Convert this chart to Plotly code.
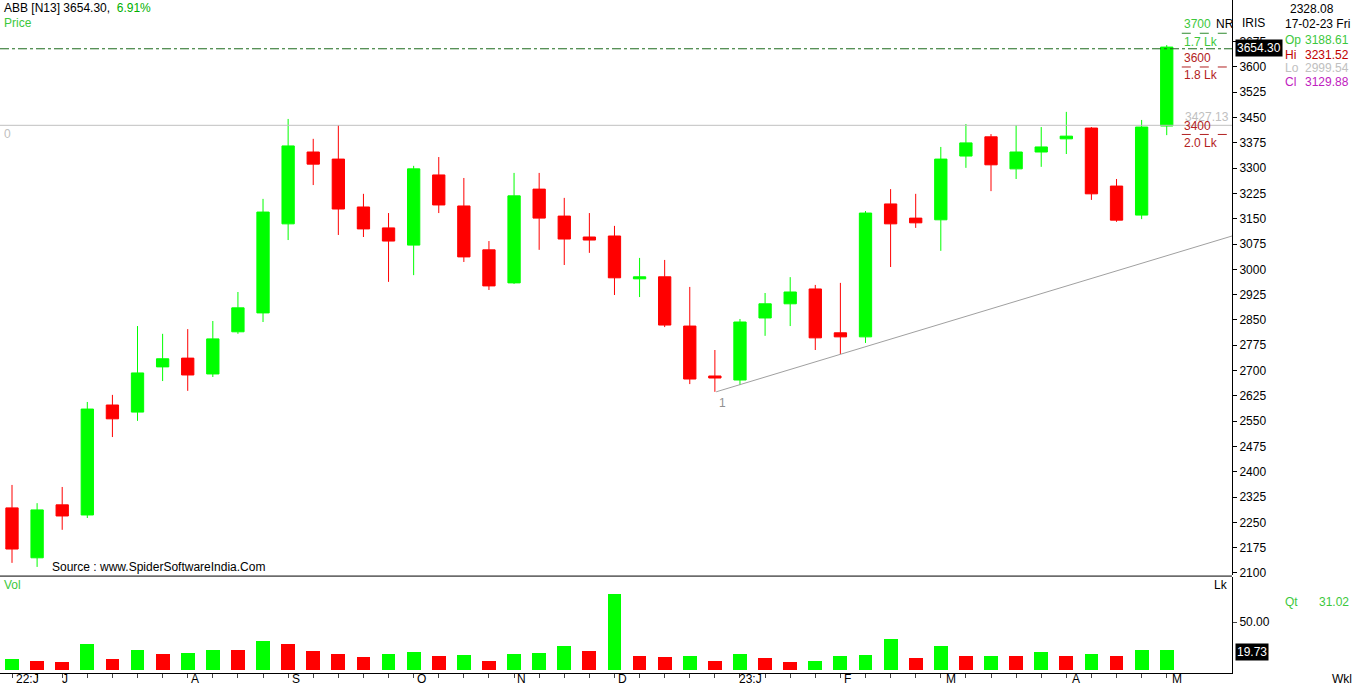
import plotly.graph_objects as go

opens  = [2293,2145,2302,2272,2598,2577,2711,2737,2690,2815,2871,3135,3348,3327,3185,3123,3072,3280,3188,3058,2960,3238,3158,3096,3099,2972,2978,2832,2684,2672,2856,2898,2942,2812,2800,3194,3152,3147,3336,3393,3298,3348,3387,3419,3247,3161,3425]
closes = [2171,2287,2269,2586,2557,2693,2735,2687,2794,2886,3170,3366,3312,3179,3120,3084,3298,3191,3037,2951,3218,3152,3090,3087,2975,2978,2835,2675,2678,2844,2898,2933,2797,2800,3167,3135,3138,3327,3375,3310,3348,3363,3395,3224,3146,3422,3659]
highs  = [2361,2307,2355,2607,2628,2832,2809,2823,2847,2933,3209,3446,3387,3428,3224,3167,3307,3333,3271,3084,3286,3286,3212,3167,3129,3034,3028,2948,2761,2853,2930,2977,2954,2960,3173,3238,3224,3363,3431,3401,3428,3422,3467,3422,3268,3443,3665]
lows   = [2130,2118,2228,2263,2503,2551,2669,2640,2681,2809,2844,3087,3250,3102,3096,2963,2983,3167,3022,2939,2957,3058,3013,3049,2924,2918,2829,2660,2637,2657,2803,2832,2761,2749,2782,3007,3123,3055,3301,3232,3268,3304,3342,3206,3141,3149,3398]
volumes = [11.5,9,8,27,12,21,16.5,17.5,21,20.5,30,27,19.5,16.5,13.5,16.5,18.5,14.5,15.5,9.5,16.5,17.5,25,19.5,79,14.5,13.5,14.5,9.5,16.5,12.5,8,9.5,14.5,15.5,32,12.5,25,14.5,14.5,14.5,19,14.5,16.5,14.5,21,21]
vol_up = [1,0,0,1,0,1,0,1,1,0,1,0,0,0,0,1,1,0,1,0,1,1,1,0,1,0,0,1,0,1,0,0,1,1,1,1,0,1,0,1,0,1,0,1,0,1,1]
month_labels = ["22:J","J","A","S","O","N","D","23:J","F","M","A","M"]
month_pos = [0.6,2.1,7.3,11.3,16.3,20.3,24.3,29.4,33.3,37.4,42.4,46.4]
price_ticks = list(range(2100, 3700, 75))

GREEN = "#00ff00"; RED = "#ff0000"
x = list(range(len(opens)))
fig = go.Figure()
fig.add_trace(go.Candlestick(x=x, open=opens, high=highs, low=lows, close=closes,
    increasing=dict(line=dict(color=GREEN, width=1), fillcolor=GREEN),
    decreasing=dict(line=dict(color=RED, width=1), fillcolor=RED),
    whiskerwidth=0, xaxis="x", yaxis="y", showlegend=False, hoverinfo="skip"))
fig.add_trace(go.Bar(x=x, y=volumes, marker=dict(color=[GREEN if u else RED for u in vol_up], line=dict(width=0)),
    width=0.55, xaxis="x2", yaxis="y2", showlegend=False, hoverinfo="skip"))
fig.add_trace(go.Scatter(x=[28.05, 48.6], y=[2637, 3099], mode="lines", line=dict(color="#a0a0a0", width=1),
    xaxis="x", yaxis="y", showlegend=False, hoverinfo="skip"))

xr = [-0.478, 48.6]
fig.update_layout(
    width=1352, height=687, margin=dict(l=0, r=120, t=0, b=14, autoexpand=False),
    paper_bgcolor="white", plot_bgcolor="white",
    font=dict(family="Liberation Sans", size=12, color="black"),
    xaxis=dict(domain=[0,1], range=xr, anchor="y", showticklabels=False, showgrid=False, zeroline=False,
               rangeslider=dict(visible=False), fixedrange=True),
    yaxis=dict(domain=[0.1456,1], range=[2094,3798.6], side="right", tickvals=price_ticks, ticks="outside",
               ticklen=4, tickcolor="black", showgrid=False, zeroline=False, showline=True, linecolor="black",
               tickfont=dict(size=12, color="black"), ticklabelstandoff=0),
    xaxis2=dict(domain=[0,1], range=xr, anchor="y2", tickvals=x, ticktext=[""]*len(x), ticks="outside",
                ticklen=4, tickcolor="#444", showgrid=False, zeroline=False, showline=True, linecolor="black"),
    yaxis2=dict(domain=[0,0.1426], range=[-3,96.9], side="right", tickvals=[50], ticktext=["50.00"], ticks="outside",
                ticklen=4, showgrid=False, zeroline=False, showline=True, linecolor="black"),
    bargap=0,
)
shapes = [
    dict(type="line", xref="paper", yref="y", x0=0, x1=1, y0=3654, y1=3654, line=dict(color="#1a6a1a", width=1, dash="dashdot")),
    dict(type="line", xref="paper", yref="y", x0=0, x1=1, y0=3427.13, y1=3427.13, line=dict(color="#c0c0c0", width=1)),
    dict(type="line", xref="x", yref="y", x0=46.6, x1=48.6, y0=3700, y1=3700, line=dict(color="#2e8b2e", width=1, dash="dash")),
    dict(type="line", xref="x", yref="y", x0=46.6, x1=48.6, y0=3600, y1=3600, line=dict(color="#b22222", width=1, dash="dash")),
    dict(type="line", xref="x", yref="y", x0=46.6, x1=48.6, y0=3400, y1=3400, line=dict(color="#b22222", width=1, dash="dash")),
    dict(type="line", xref="paper", yref="paper", x0=0, x1=1, y0=0.144, y1=0.144, line=dict(color="black", width=1)),
]
fig.update_layout(shapes=shapes)

ann = []
def T(px, py, text, color="black", size=12, xanchor="left", bg=None):
    ann.append(dict(xref="paper", yref="paper", x=px/1232, y=1-py/673, text=text, showarrow=False,
                    xanchor=xanchor, yanchor="middle", font=dict(color=color, size=size),
                    bgcolor=bg, borderpad=1))
T(2, 8, "ABB [N13] 3654.30,  <span style='color:#00b000'>6.91%</span>")
T(2, 23, "Price", "#3cc83c")
T(2, 134, "0", "#c0c0c0")
T(717, 403, "1", "#909090")
T(50, 567, "Source : www.SpiderSoftwareIndia.Com")
T(2, 585, "Vol", "#3cc83c")
T(1212, 585, "Lk")
T(1182, 24, "3700", "#3cc83c"); T(1214, 24, "NR")
T(1182, 42, "1.7 Lk", "#3cc83c")
T(1182, 58, "3600", "#b22222")
T(1182, 75, "1.8 Lk", "#b22222")
T(1183, 117, "3427.13", "#c0c0c0")
T(1182, 126, "3400", "#b22222")
T(1182, 143, "2.0 Lk", "#b22222")
T(1235, 48, "3654.30", "white", bg="black")
T(1235, 652, "19.73", "white", bg="black")
T(1240, 23, "IRIS")
T(1288, 9, "2328.08")
T(1283, 24, "17-02-23 Fri")
T(1283, 40, "Op", "#3cc83c"); T(1351, 40, "3188.61", "#3cc83c", xanchor="right")
T(1283, 55, "Hi", "#c00000"); T(1351, 55, "3231.52", "#c00000", xanchor="right")
T(1283, 68, "Lo", "#c0c0c0"); T(1351, 68, "2999.54", "#c0c0c0", xanchor="right")
T(1283, 82, "Cl", "#c020c0"); T(1351, 82, "3129.88", "#c020c0", xanchor="right")
T(1283, 602, "Qt", "#3cc83c"); T(1351, 602, "31.02", "#3cc83c", xanchor="right")
T(1330, 679, "Wkl")
for lab, p in zip(month_labels, month_pos):
    ann.append(dict(xref="x2", yref="paper", x=p, y=1-679/673, text=lab, showarrow=False, xanchor="center",
                    yanchor="middle", font=dict(size=12)))
fig.update_layout(annotations=ann)
fig.write_html("out.html", config={"displayModeBar": False},
               post_script="document.body.style.margin='0';document.body.style.overflow='hidden';")
